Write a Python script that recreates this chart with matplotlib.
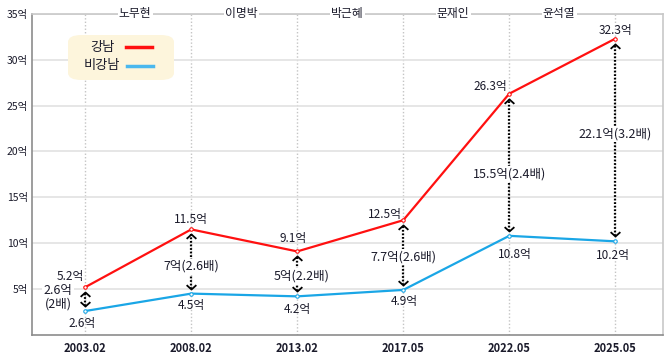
import matplotlib
matplotlib.use("Agg")
import matplotlib.pyplot as plt
from matplotlib.path import Path
from matplotlib.patches import FancyBboxPatch

plt.rcParams['font.family'] = ['Noto Sans CJK KR', 'DejaVu Sans']

# data
dates = ["2003.02", "2008.02", "2013.02", "2017.05", "2022.05", "2025.05"]
gangnam = [5.2, 11.5, 9.1, 12.5, 26.3, 32.3]
others = [2.6, 4.5, 4.2, 4.9, 10.8, 10.2]
gap_text = ["2.6억\n(2배)", "7억(2.6배)", "5억(2.2배)", "7.7억(2.6배)",
            "15.5억(2.4배)", "22.1억(3.2배)"]
presidents = ["노무현", "이명박", "박근혜", "문재인", "윤석열"]
yticks = [5, 10, 15, 20, 25, 30, 35]

RED = "#ff1010"
BLUE = "#1aa6e6"
TXT = "#1b1b2b"

# label offsets in pixels (dx, dy)
top_off = [(-15, 11), (0, 10), (-4, 13), (-18, 6), (-19, 7), (0, 8)]
bot_off = [(-3, -12), (0, -12), (0, -13), (1, -12), (6, -19), (-2, -14)]
gap_off = [(-27, 2), (0, -5), (4, -2), (0, -2), (0, -9), (0, 6)]

fig = plt.figure(figsize=(6.71, 3.57), dpi=100)
ax = fig.add_axes([0.048, 0.062, 0.940, 0.899])
x = list(range(len(dates)))

ax.set_xlim(-0.5, 5.45)
ax.set_ylim(0, 35)
ax.set_yticks(yticks)
ax.set_yticklabels([f"{v}억" for v in yticks], fontsize=7.5, color=TXT)
ax.set_xticks(x)
ax.set_xticklabels(dates, fontsize=8, fontweight="bold", color=TXT)
ax.tick_params(length=0, pad=3)
ax.tick_params(axis="x", pad=5)
ax.grid(axis="y", color="#e2e2e2", lw=1.2, zorder=0)
for s in ["left", "bottom"]:
    ax.spines[s].set_color("#8c8c8c")
    ax.spines[s].set_linewidth(1.2)
for s in ["top", "right"]:
    ax.spines[s].set_color("#c8c8c8")
    ax.spines[s].set_linewidth(1.2)

for xi in x:
    ax.axvline(xi, color="#c4c4c4", lw=1, ls=(0, (1, 1.5)), zorder=1)

ax.plot(x, gangnam, color=RED, lw=1.6, marker="o", ms=2.5, mfc="white",
        mec=RED, mew=0.8, zorder=4)
ax.plot(x, others, color=BLUE, lw=1.6, marker="o", ms=2.5, mfc="white",
        mec=BLUE, mew=0.8, zorder=4)

up = Path([(-1, -0.9), (0, 0), (1, -0.9)], [Path.MOVETO, Path.LINETO, Path.LINETO])
down = Path([(-1, 0.9), (0, 0), (1, 0.9)], [Path.MOVETO, Path.LINETO, Path.LINETO])

for i in x:
    hi, lo = gangnam[i], others[i]
    top_y = hi - 0.55
    bot_y = lo + 0.55
    ax.plot([i, i], [bot_y, top_y], color="black", lw=1.6,
            ls=(0, (0.8, 0.8)), zorder=3)
    ax.plot([i], [top_y], marker=up, ms=7, mfc="none", mec="black", mew=1.3, zorder=3)
    ax.plot([i], [bot_y], marker=down, ms=7, mfc="none", mec="black", mew=1.3, zorder=3)

    ax.annotate(f"{hi}억", (i, hi), xytext=top_off[i], textcoords="offset pixels",
                ha="center", va="center", fontsize=8.5, color=TXT, zorder=6)
    ax.annotate(f"{lo}억", (i, lo), xytext=bot_off[i], textcoords="offset pixels",
                ha="center", va="center", fontsize=8.5, color=TXT, zorder=6)
    ax.annotate(gap_text[i], (i, (hi + lo) / 2), xytext=gap_off[i],
                textcoords="offset pixels", ha="center", va="center",
                fontsize=9, color=TXT, linespacing=1.0, zorder=6,
                bbox=dict(boxstyle="square,pad=0.12", fc="white", ec="none"))

for k, name in enumerate(presidents):
    ax.text(k + 0.47, 35, name, ha="center", va="center", fontsize=8.5,
            color=TXT, zorder=7,
            bbox=dict(boxstyle="square,pad=0.1", fc="white", ec="none"))

# legend box
legend_box = FancyBboxPatch((68 / 671, 1 - 80 / 357), 106 / 671, 45 / 357,
                            boxstyle="round,pad=0,rounding_size=0.02",
                            transform=fig.transFigure, fc="#fdf5dc", ec="none",
                            zorder=8)
fig.patches.append(legend_box)
fig.text(102 / 671, 1 - 47 / 357, "강남", ha="center", va="center",
         fontsize=9.5, color=TXT, zorder=9)
fig.text(102 / 671, 1 - 66 / 357, "비강남", ha="center", va="center",
         fontsize=9.5, color=TXT, zorder=9)
fig.add_artist(plt.Line2D([126 / 671, 152 / 671], [1 - 47 / 357] * 2,
                          color=RED, lw=2.5, transform=fig.transFigure, zorder=9))
fig.add_artist(plt.Line2D([127 / 671, 153 / 671], [1 - 66 / 357] * 2,
                          color="#4ab8ee", lw=2.5, transform=fig.transFigure, zorder=9))

fig.savefig("out.png", dpi=100)
